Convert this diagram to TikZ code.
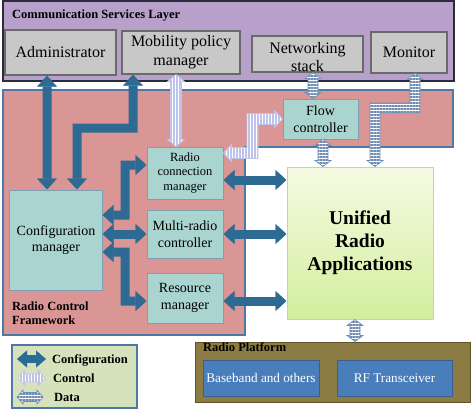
\documentclass[tikz,border=0pt]{standalone}
\usepackage{fontspec}
\setmainfont{Liberation Serif}
\usetikzlibrary{arrows.meta,patterns.meta,calc}
\definecolor{cslfill}{HTML}{B7A1CB}
\definecolor{csldraw}{HTML}{2B2B3B}
\definecolor{grayfill}{HTML}{C8C8C8}
\definecolor{graydraw}{HTML}{6A6A6A}
\definecolor{rcffill}{HTML}{D99694}
\definecolor{rcfdraw}{HTML}{4F78A6}
\definecolor{tealfill}{HTML}{A9D4CF}
\definecolor{tealdraw}{HTML}{7D9EB4}
\definecolor{uratop}{HTML}{F5FBE2}
\definecolor{urabot}{HTML}{D3EE9E}
\definecolor{uradraw}{HTML}{C3D99A}
\definecolor{rpfill}{HTML}{8C7C43}
\definecolor{rpdraw}{HTML}{5F532B}
\definecolor{bluefill}{HTML}{4A7EBB}
\definecolor{bluedraw}{HTML}{3A5F8F}
\definecolor{legfill}{HTML}{D6E2BC}
\definecolor{cfgc}{HTML}{2D6B95}
\definecolor{datas}{HTML}{6F8CB5}
\definecolor{ctrls}{HTML}{BFC3EC}
\newcommand\setfs[2]{\fontsize{#1bp}{#2bp}\selectfont}
% vertical double-headed fat arrow: style, top point, bottom point, half shaft, half head, head length
\newcommand\vdbl[6]{\path[#1] let \p1=(#2), \p2=(#3) in
  (\x1,\y1) -- ({\x1+#5},{\y1-#6}) -- ({\x1+#4},{\y1-#6}) -- ({\x1+#4},{\y2+#6})
  -- ({\x1+#5},{\y2+#6}) -- (\x1,\y2) -- ({\x1-#5},{\y2+#6}) -- ({\x1-#4},{\y2+#6})
  -- ({\x1-#4},{\y1-#6}) -- ({\x1-#5},{\y1-#6}) -- cycle;}
% horizontal double-headed fat arrow
\newcommand\hdbl[6]{\path[#1] let \p1=(#2), \p2=(#3) in
  (\x1,\y1) -- ({\x1+#6},{\y1+#5}) -- ({\x1+#6},{\y1+#4}) -- ({\x2-#6},{\y1+#4})
  -- ({\x2-#6},{\y1+#5}) -- (\x2,\y1) -- ({\x2-#6},{\y1-#5}) -- ({\x2-#6},{\y1-#4})
  -- ({\x1+#6},{\y1-#4}) -- ({\x1+#6},{\y1-#5}) -- cycle;}
\tikzset{
  box/.style={draw, inner sep=0pt, align=center},
  graybox/.style={box, fill=grayfill, draw=graydraw, line width=1.2bp, font=\setfs{16}{19}},
  tealbox/.style={box, fill=tealfill, draw=tealdraw, line width=1bp, font=\setfs{14}{16.5}},
  bluebox/.style={box, fill=bluefill, draw=bluedraw, line width=1bp, text=white, font=\setfs{13.2}{15}},
  title/.style={inner sep=0pt, font=\bfseries\setfs{12.5}{14}},
  plaintext/.style={inner sep=0pt, align=center, font=\setfs{16}{18}},
  cfg/.style={draw=cfgc, line width=9bp, line join=miter,
    {Triangle[length=11bp, width=20bp, line width=0.4bp]}-{Triangle[length=11bp, width=20bp, line width=0.4bp]}},
  cfgsmall/.style={draw=cfgc, line width=7.5bp,
    {Triangle[length=10bp, width=17bp, line width=0.4bp]}-{Triangle[length=10bp, width=17bp, line width=0.4bp]}},
  dataarr/.style={preaction={fill=white}, preaction={pattern={Lines[angle=0,distance=3bp,line width=1.3bp]}, pattern color=datas},
    draw=datas, line width=0.6bp},
  ctrlarr/.style={preaction={fill=white}, preaction={pattern={Lines[angle=90,distance=3bp,line width=1.1bp]}, pattern color=ctrls},
    draw=ctrls, line width=0.6bp},
}
\begin{document}
\begin{tikzpicture}[x=1bp,y=-1bp]
\useasboundingbox (0,0) rectangle (474,412);
% Communication Services Layer
\path[fill=cslfill, draw=csldraw, line width=2bp] (3,1) rectangle (454,81);
\node[title, anchor=base west] (cslt) at (12,18) {Communication Services Layer};
% Radio Control Framework
\path[fill=rcffill, draw=rcfdraw, line width=1.2bp] (3,90) -- (453,90) -- (453,147) -- (245,147) -- (245,335) -- (3,335) -- cycle;
\node[title, anchor=north west, align=left] (rcft) at (12,301.5) {Radio Control\\Framework};
% top boxes
\node[graybox, minimum width=111bp, minimum height=45bp] (adm) at (60.5,52.5) {Administrator};
\node[graybox, minimum width=118bp, minimum height=43bp] (mpm) at (181,52.5) {Mobility policy\\manager};
\node[graybox, minimum width=111bp, minimum height=36bp] (ns) at (307.5,54) {};
\node[plaintext] (nst) at (307.5,57.5) {Networking\\stack};
\node[graybox, minimum width=76bp, minimum height=41bp] (mon) at (409,52.5) {Monitor};
% radio control boxes
\node[tealbox, minimum width=92bp, minimum height=100bp] (cm) at (56,240) {Configuration\\manager};
\node[tealbox, font=\setfs{12.5}{14.5}, minimum width=76bp, minimum height=52bp] (rcm) at (185,173) {Radio\\connection\\manager};
\node[tealbox, minimum width=76bp, minimum height=48bp] (mrc) at (185,234) {Multi-radio\\controller};
\node[tealbox, minimum width=76bp, minimum height=50bp] (rm) at (185,298) {Resource\\manager};
\node[tealbox, minimum width=75bp, minimum height=40bp] (fc) at (320.5,119) {Flow\\controller};
% unified radio applications
\node[box, draw=uradraw, line width=1bp, top color=uratop, bottom color=urabot, minimum width=146bp, minimum height=152bp,
      font=\bfseries\setfs{19.5}{23}] (ura) at (360,243) {Unified\\Radio\\Applications};
% radio platform
\node[box, fill=rpfill, draw=rpdraw, line width=1bp, minimum width=275bp, minimum height=60bp] (rp) at (332.5,372) {};
\node[title, anchor=base west] (rpt) at (203,351) {Radio Platform};
\node[bluebox, minimum width=116bp, minimum height=36bp] (bb) at (261,378) {Baseband and others};
\node[bluebox, minimum width=115bp, minimum height=36bp] (rf) at (394.5,378) {RF Transceiver};
% legend
\node[box, fill=legfill, draw=rcfdraw, line width=1.2bp, minimum width=125bp, minimum height=63bp] (leg) at (74.5,376.5) {};
\node[title, anchor=base west] (lg1) at (52,363) {Configuration};
\node[title, anchor=base west] (lg2) at (53,382) {Control};
\node[title, anchor=base west] (lg3) at (54,401) {Data};
\coordinate (lc1) at (17,359);  \coordinate (lc2) at (46,359);
\coordinate (lk1) at (18,378);  \coordinate (lk2) at (45,378);
\coordinate (ld1) at (17,397);  \coordinate (ld2) at (43,397);
\draw[cfgsmall] (lc1) -- (lc2);
\hdbl{ctrlarr}{lk1}{lk2}{4bp}{8bp}{7bp}
\hdbl{dataarr}{ld1}{ld2}{4.5bp}{7bp}{6bp}
% configuration connectors
\draw[cfg] ([xshift=-13.5bp]adm.south) -- ([xshift=-9bp]cm.north);
\draw[cfg] ([xshift=-48bp]mpm.south) |- (77,128) -- ([xshift=21bp]cm.north);
\draw[cfg] ([yshift=25bp]cm.east) -- (125,215) |- ([yshift=8bp]rcm.west);
\draw[cfg] (cm.east |- mrc.west) -- (mrc.west);
\draw[cfg] ([yshift=-12bp]cm.east) -- (125,252) |- ([yshift=-3bp]rm.west);
\coordinate (a1) at ([yshift=-7bp]rcm.east);
\coordinate (a3) at ([yshift=-3bp]rm.east);
\draw[cfg] (a1) -- (a1 -| ura.west);
\draw[cfg] (mrc.east) -- (mrc.east -| ura.west);
\draw[cfg] (a3) -- (a3 -| ura.west);
% control connectors
\vdbl{ctrlarr}{[xshift=-5bp]mpm.south}{rcm.north}{5.5bp}{8.5bp}{7bp}
\path[ctrlarr] let \p1=(fc.west), \p2=([yshift=20bp]rcm.east) in
  (\p1) -- ({\x1-8bp},{\y1+8.5bp}) -- ({\x1-8bp},{\y1+5.5bp}) -- (247bp,{\y1+5.5bp})
  -- (247bp,{\y2+5.5bp}) -- ({\x2+8bp},{\y2+5.5bp}) -- ({\x2+8bp},{\y2+8.5bp}) -- (\p2)
  -- ({\x2+8bp},{\y2-8.5bp}) -- ({\x2+8bp},{\y2-5.5bp}) -- (258bp,{\y2-5.5bp})
  -- (258bp,{\y1-5.5bp}) -- ({\x1-8bp},{\y1-5.5bp}) -- ({\x1-8bp},{\y1-8.5bp}) -- cycle;
% data connectors
\vdbl{dataarr}{[xshift=5.5bp]ns.south}{fc.north}{5bp}{8bp}{6bp}
\vdbl{dataarr}{[xshift=2.5bp]fc.south}{ura.north}{5bp}{8bp}{6bp}
\vdbl{dataarr}{[xshift=-5bp]ura.south}{rp.north}{5bp}{8bp}{6bp}
\path[dataarr] let \p1=([xshift=6bp]mon.south), \p2=([xshift=15bp]ura.north) in
  (\p1) -- ({\x1+8bp},{\y1-6bp}) -- ({\x1+5bp},{\y1-6bp}) -- ({\x1+5bp},-113bp)
  -- ({\x2+5bp},-113bp) -- ({\x2+5bp},{\y2+6bp}) -- ({\x2+8bp},{\y2+6bp}) -- (\p2)
  -- ({\x2-8bp},{\y2+6bp}) -- ({\x2-5bp},{\y2+6bp}) -- ({\x2-5bp},-103bp)
  -- ({\x1-5bp},-103bp) -- ({\x1-5bp},{\y1-6bp}) -- ({\x1-8bp},{\y1-6bp}) -- cycle;
\end{tikzpicture}
\end{document}
